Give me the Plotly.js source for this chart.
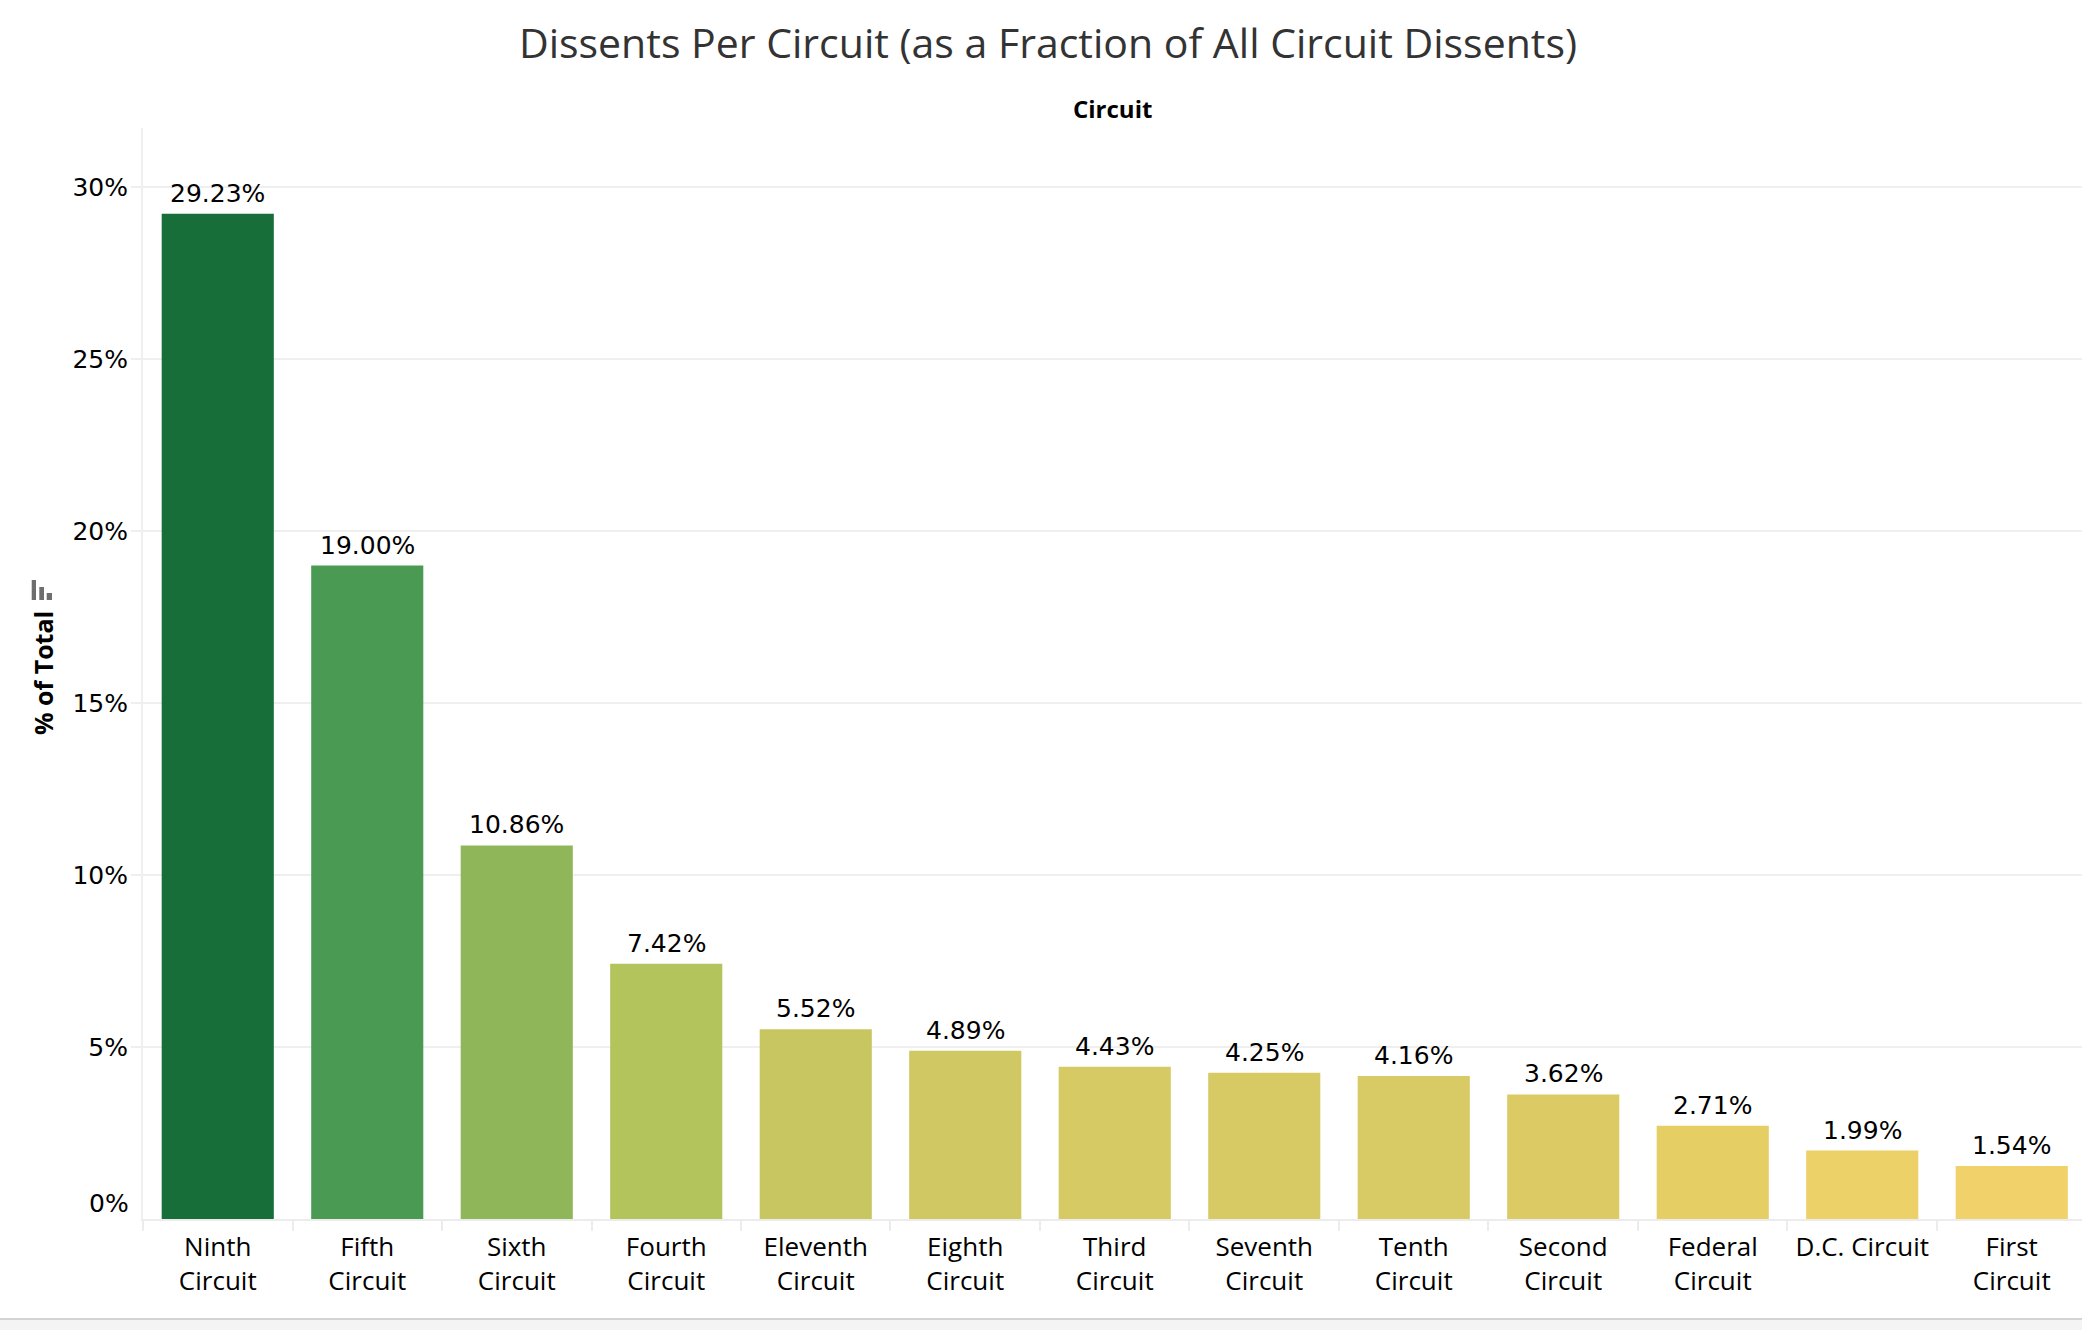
<!DOCTYPE html>
<html>
<head>
<meta charset="utf-8">
<script src="https://cdn.plot.ly/plotly-3.0.1.min.js"></script>
<style>
  html, body { margin: 0; padding: 0; background: #ffffff; overflow: hidden; }
  #chart { width: 2082px; height: 1318px; }
  #footer { width: 2082px; height: 10px; background: #f4f4f4; border-top: 2px solid #d4d4d4; }
</style>
</head>
<body>
<div id="chart"></div>
<div id="footer"></div>
<script>
// ---- data ----
const circuits = ["Ninth<br>Circuit", "Fifth<br>Circuit", "Sixth<br>Circuit", "Fourth<br>Circuit",
  "Eleventh<br>Circuit", "Eighth<br>Circuit", "Third<br>Circuit", "Seventh<br>Circuit",
  "Tenth<br>Circuit", "Second<br>Circuit", "Federal<br>Circuit", "D.C. Circuit", "First<br>Circuit"];
const pctOfTotal = [29.23, 19.00, 10.86, 7.42, 5.52, 4.89, 4.43, 4.25, 4.16, 3.62, 2.71, 1.99, 1.54];
const barColors = ["#176e39", "#4a9a53", "#8fb75a", "#b3c45d", "#c8c660", "#d0c862", "#d5ca63",
  "#d7ca64", "#d8ca64", "#dccb64", "#e5cf65", "#ecd068", "#f0d16a"];
const yTickVals = [5, 10, 15, 20, 25, 30];
const yTickText = ["5%", "10%", "15%", "20%", "25%", "30%"];

// ---- layout geometry (pixels) ----
const W = 2082, H = 1318;
const mL = 143, mR = 0, mT = 128, mB = H - 1219;
const plotW = W - mL - mR, plotH = H - mT - mB;
const px2paperX = p => (p - mL) / plotW;
const px2paperY = p => (H - mB - p) / plotH;

const labelFont = { family: "DejaVu Sans, Verdana, sans-serif", size: 25, color: "#000000" };

const annotations = pctOfTotal.map((v, i) => ({
  x: circuits[i], y: v, xref: "x", yref: "y",
  text: v.toFixed(2) + "%", showarrow: false,
  yanchor: "bottom", yshift: 4, font: labelFont
}));
annotations.push({
  x: 0, y: 0, xref: "paper", yref: "y", text: "0%", showarrow: false,
  xanchor: "right", yanchor: "middle", xshift: -12, yshift: 16, font: labelFont
});
annotations.push({
  x: 0.5, y: px2paperY(109), xref: "paper", yref: "paper", text: "<b>Circuit</b>",
  showarrow: false, xanchor: "center", yanchor: "middle",
  font: { family: "Open Sans, sans-serif", size: 24, color: "#000000" }
});
// y-axis title
annotations.push({
  x: px2paperX(43), y: px2paperY(673), xref: "paper", yref: "paper", text: "<b>% of Total</b>",
  showarrow: false, xanchor: "center", yanchor: "middle", textangle: -90,
  font: { family: "Open Sans, sans-serif", size: 25, color: "#000000" }
});

// sort icon next to axis title
const iconBars = [[31.7, 36, 580], [39.3, 44, 587], [46.7, 52, 593]];
const shapes = iconBars.map(b => ({
  type: "rect", xref: "paper", yref: "paper",
  x0: px2paperX(b[0]), x1: px2paperX(b[1]), y0: px2paperY(600), y1: px2paperY(b[2]),
  fillcolor: "#6e6e6e", line: { width: 0 }
}));

const trace = {
  type: "bar", x: circuits, y: pctOfTotal,
  marker: { color: barColors, line: { width: 0 } },
  hoverinfo: "none"
};

const layout = {
  width: W, height: H,
  margin: { l: mL, r: mR, t: mT, b: mB, pad: 0 },
  paper_bgcolor: "#ffffff", plot_bgcolor: "#ffffff",
  title: {
    text: "Dissents Per Circuit (as a Fraction of All Circuit Dissents)",
    x: 1048 / W, xanchor: "center", xref: "container",
    y: 1 - 44 / H, yanchor: "middle", yref: "container",
    font: { family: "Open Sans, sans-serif", size: 41, color: "#333333" }
  },
  bargap: 0.25,
  showlegend: false,
  xaxis: {
    type: "category", range: [-0.5, 12.47], fixedrange: true,
    showgrid: false, zeroline: false,
    showline: true, linecolor: "#ececec", linewidth: 2,
    ticks: "outside", tickson: "boundaries", ticklen: 10, tickcolor: "#ececec", tickwidth: 2,
    ticklabelstandoff: 4,
    tickfont: { family: "Open Sans, sans-serif", size: 26, color: "#000000" },
    tickangle: 0
  },
  yaxis: {
    range: [0, 31.72], fixedrange: true,
    tickvals: yTickVals, ticktext: yTickText,
    showgrid: true, gridcolor: "#efefef", gridwidth: 2,
    zeroline: false,
    showline: true, linecolor: "#efefef", linewidth: 2,
    ticks: "outside", ticklen: 10, tickcolor: "#efefef", tickwidth: 2,
    ticklabelstandoff: -2,
    tickfont: labelFont
  },
  annotations: annotations,
  shapes: shapes
};

Plotly.newPlot("chart", [trace], layout, { staticPlot: true, displayModeBar: false });
</script>
</body>
</html>
